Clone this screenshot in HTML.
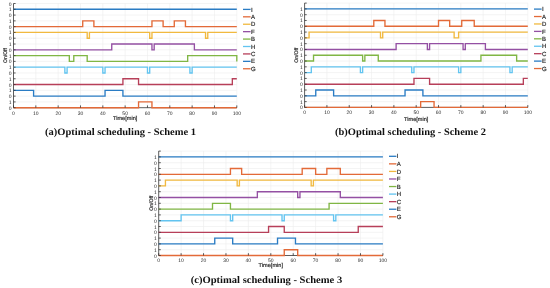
<!DOCTYPE html>
<html><head><meta charset="utf-8"><style>
html,body{margin:0;padding:0;background:#fff;}
svg{display:block;}
</style></head><body>
<svg width="550" height="288" viewBox="0 0 550 288" text-rendering="geometricPrecision" font-family="'Liberation Sans', Arial, sans-serif">
<rect width="550" height="288" fill="#fff"/>
<g><path d="M35.83 3.5V107.7M58.16 3.5V107.7M80.49 3.5V107.7M102.82 3.5V107.7M125.15 3.5V107.7M147.48 3.5V107.7M169.81 3.5V107.7M192.14 3.5V107.7M214.47 3.5V107.7M236.8 3.5V107.7M13.5 3.5H236.8M13.5 9.29H236.8M13.5 15.08H236.8M13.5 20.87H236.8M13.5 26.66H236.8M13.5 32.44H236.8M13.5 38.23H236.8M13.5 44.02H236.8M13.5 49.81H236.8M13.5 55.6H236.8M13.5 61.39H236.8M13.5 67.18H236.8M13.5 72.97H236.8M13.5 78.76H236.8M13.5 84.54H236.8M13.5 90.33H236.8M13.5 96.12H236.8M13.5 101.91H236.8" stroke="#ececec" stroke-width="0.6" fill="none"/><path d="M13.5 3.5V107.7H236.8" stroke="#333333" stroke-width="0.8" fill="none"/><path d="M13.5 9.29H236.8" stroke="#2a7cc4" stroke-width="1.35" fill="none"/><path d="M13.5 26.66H82.72V20.87H93.89V26.66H151.95V20.87H163.11V26.66H174.28V20.87H185.44V26.66H236.8" stroke="#e36a38" stroke-width="1.35" fill="none"/><path d="M13.5 32.44H87.19V38.23H89.42V32.44H149.71V38.23H151.95V32.44H205.54V38.23H207.77V32.44H236.8" stroke="#f1b93f" stroke-width="1.35" fill="none"/><path d="M13.5 49.81H111.75V44.02H151.95V49.81H154.18V44.02H194.37V49.81H236.8" stroke="#9450a3" stroke-width="1.35" fill="none"/><path d="M13.5 55.6H69.33V61.39H73.79V55.6H87.19V61.39H187.67V55.6H236.8V61.39H236.8" stroke="#80b644" stroke-width="1.35" fill="none"/><path d="M13.5 67.18H64.86V72.97H67.09V67.18H102.82V72.97H105.05V67.18H147.48V72.97H149.71V67.18H189.91V72.97H192.14V67.18H236.8" stroke="#62c4f0" stroke-width="1.35" fill="none"/><path d="M13.5 84.54H122.92V78.76H138.55V84.54H232.33V78.76H236.8" stroke="#b73f59" stroke-width="1.35" fill="none"/><path d="M13.5 90.33H33.6V96.12H105.05V90.33H122.92V96.12H236.8" stroke="#2a7cc4" stroke-width="1.35" fill="none"/><path d="M13.5 107.7H138.55V101.91H151.95V107.7H236.8" stroke="#e36a38" stroke-width="1.35" fill="none"/><path d="M13.5 3.5h2.1M13.5 9.29h2.1M13.5 15.08h2.1M13.5 20.87h2.1M13.5 26.66h2.1M13.5 32.44h2.1M13.5 38.23h2.1M13.5 44.02h2.1M13.5 49.81h2.1M13.5 55.6h2.1M13.5 61.39h2.1M13.5 67.18h2.1M13.5 72.97h2.1M13.5 78.76h2.1M13.5 84.54h2.1M13.5 90.33h2.1M13.5 96.12h2.1M13.5 101.91h2.1M13.5 107.7h2.1M13.5 107.7v-2.3M35.83 107.7v-2.3M58.16 107.7v-2.3M80.49 107.7v-2.3M102.82 107.7v-2.3M125.15 107.7v-2.3M147.48 107.7v-2.3M169.81 107.7v-2.3M192.14 107.7v-2.3M214.47 107.7v-2.3M236.8 107.7v-2.3" stroke="#333333" stroke-width="0.8" fill="none"/><g font-size="5" fill="#262626"><text x="11.6" y="5.5" text-anchor="end">0</text><text x="11.6" y="11.29" text-anchor="end">1</text><text x="11.6" y="17.08" text-anchor="end">0</text><text x="11.6" y="22.87" text-anchor="end">1</text><text x="11.6" y="28.66" text-anchor="end">0</text><text x="11.6" y="34.44" text-anchor="end">1</text><text x="11.6" y="40.23" text-anchor="end">0</text><text x="11.6" y="46.02" text-anchor="end">1</text><text x="11.6" y="51.81" text-anchor="end">0</text><text x="11.6" y="57.6" text-anchor="end">1</text><text x="11.6" y="63.39" text-anchor="end">0</text><text x="11.6" y="69.18" text-anchor="end">1</text><text x="11.6" y="74.97" text-anchor="end">0</text><text x="11.6" y="80.76" text-anchor="end">1</text><text x="11.6" y="86.54" text-anchor="end">0</text><text x="11.6" y="92.33" text-anchor="end">1</text><text x="11.6" y="98.12" text-anchor="end">0</text><text x="11.6" y="103.91" text-anchor="end">1</text><text x="11.6" y="109.7" text-anchor="end">0</text><text x="13.5" y="114.95" text-anchor="middle">0</text><text x="35.83" y="114.95" text-anchor="middle">10</text><text x="58.16" y="114.95" text-anchor="middle">20</text><text x="80.49" y="114.95" text-anchor="middle">30</text><text x="102.82" y="114.95" text-anchor="middle">40</text><text x="125.15" y="114.95" text-anchor="middle">50</text><text x="147.48" y="114.95" text-anchor="middle">60</text><text x="169.81" y="114.95" text-anchor="middle">70</text><text x="192.14" y="114.95" text-anchor="middle">80</text><text x="214.47" y="114.95" text-anchor="middle">90</text><text x="236.8" y="114.95" text-anchor="middle">100</text></g><text x="125.15" y="120" font-size="5.6" fill="#333333" stroke="#333" stroke-width="0.22" text-anchor="middle">Time[min]</text><text transform="translate(7.1 55.6) rotate(-90)" font-size="5.1" fill="#333333" stroke="#333" stroke-width="0.22" text-anchor="middle">On/Off</text><g font-size="6" fill="#333333" stroke="#333" stroke-width="0.22"><path d="M243 9.4h7.6" stroke="#2a7cc4" stroke-width="1.3"/><text x="250.9" y="11.55">I</text><path d="M243 16.82h7.6" stroke="#e36a38" stroke-width="1.3"/><text x="250.9" y="18.97">A</text><path d="M243 24.24h7.6" stroke="#f1b93f" stroke-width="1.3"/><text x="250.9" y="26.39">D</text><path d="M243 31.66h7.6" stroke="#9450a3" stroke-width="1.3"/><text x="250.9" y="33.81">F</text><path d="M243 39.08h7.6" stroke="#80b644" stroke-width="1.3"/><text x="250.9" y="41.23">B</text><path d="M243 46.5h7.6" stroke="#62c4f0" stroke-width="1.3"/><text x="250.9" y="48.65">H</text><path d="M243 53.92h7.6" stroke="#b73f59" stroke-width="1.3"/><text x="250.9" y="56.07">C</text><path d="M243 61.34h7.6" stroke="#2a7cc4" stroke-width="1.3"/><text x="250.9" y="63.49">E</text><path d="M243 68.76h7.6" stroke="#e36a38" stroke-width="1.3"/><text x="250.9" y="70.91">G</text></g><text x="45" y="134.8" font-family="'Liberation Serif', serif" font-weight="bold" font-size="10" fill="#111" textLength="151" lengthAdjust="spacingAndGlyphs">(a)Optimal scheduling - Scheme 1</text></g>
<g><path d="M326.92 3.1V107.4M349.24 3.1V107.4M371.56 3.1V107.4M393.88 3.1V107.4M416.2 3.1V107.4M438.52 3.1V107.4M460.84 3.1V107.4M483.16 3.1V107.4M505.48 3.1V107.4M527.8 3.1V107.4M304.6 3.1H527.8M304.6 8.89H527.8M304.6 14.69H527.8M304.6 20.48H527.8M304.6 26.28H527.8M304.6 32.07H527.8M304.6 37.87H527.8M304.6 43.66H527.8M304.6 49.46H527.8M304.6 55.25H527.8M304.6 61.04H527.8M304.6 66.84H527.8M304.6 72.63H527.8M304.6 78.43H527.8M304.6 84.22H527.8M304.6 90.02H527.8M304.6 95.81H527.8M304.6 101.61H527.8" stroke="#ececec" stroke-width="0.6" fill="none"/><path d="M304.6 3.1V107.4H527.8" stroke="#333333" stroke-width="0.8" fill="none"/><path d="M304.6 8.89H527.8" stroke="#2a7cc4" stroke-width="1.35" fill="none"/><path d="M304.6 26.28H373.79V20.48H384.95V26.28H438.52V20.48H449.68V26.28H461.73V20.48H474.23V26.28H527.8" stroke="#e36a38" stroke-width="1.35" fill="none"/><path d="M304.6 37.87H309.06V32.07H380.49V37.87H382.72V32.07H454.14V37.87H458.61V32.07H527.8" stroke="#f1b93f" stroke-width="1.35" fill="none"/><path d="M304.6 49.46H396.11V43.66H427.36V49.46H429.59V43.66H463.07V49.46H465.3V43.66H485.39V49.46H527.8" stroke="#9450a3" stroke-width="1.35" fill="none"/><path d="M304.6 61.04H313.53V55.25H362.63V61.04H364.86V55.25H378.26V61.04H480.93V55.25H516.64V61.04H527.8" stroke="#80b644" stroke-width="1.35" fill="none"/><path d="M304.6 72.63H311.3V66.84H360.4V72.63H362.63V66.84H411.74V72.63H413.97V66.84H458.61V72.63H460.84V66.84H509.94V72.63H512.18V66.84H527.8" stroke="#62c4f0" stroke-width="1.35" fill="none"/><path d="M304.6 84.22H413.97V78.43H429.59V84.22H523.34V78.43H527.8" stroke="#b73f59" stroke-width="1.35" fill="none"/><path d="M304.6 95.81H315.76V90.02H333.62V95.81H405.04V90.02H422.9V95.81H527.8" stroke="#2a7cc4" stroke-width="1.35" fill="none"/><path d="M304.6 107.4H420.66V101.61H434.06V107.4H527.8" stroke="#e36a38" stroke-width="1.35" fill="none"/><path d="M304.6 3.1h2.1M304.6 8.89h2.1M304.6 14.69h2.1M304.6 20.48h2.1M304.6 26.28h2.1M304.6 32.07h2.1M304.6 37.87h2.1M304.6 43.66h2.1M304.6 49.46h2.1M304.6 55.25h2.1M304.6 61.04h2.1M304.6 66.84h2.1M304.6 72.63h2.1M304.6 78.43h2.1M304.6 84.22h2.1M304.6 90.02h2.1M304.6 95.81h2.1M304.6 101.61h2.1M304.6 107.4h2.1M304.6 107.4v-2.3M326.92 107.4v-2.3M349.24 107.4v-2.3M371.56 107.4v-2.3M393.88 107.4v-2.3M416.2 107.4v-2.3M438.52 107.4v-2.3M460.84 107.4v-2.3M483.16 107.4v-2.3M505.48 107.4v-2.3M527.8 107.4v-2.3" stroke="#333333" stroke-width="0.8" fill="none"/><g font-size="5" fill="#262626"><text x="302.7" y="10.89" text-anchor="end">1</text><text x="302.7" y="16.69" text-anchor="end">0</text><text x="302.7" y="22.48" text-anchor="end">1</text><text x="302.7" y="28.28" text-anchor="end">0</text><text x="302.7" y="34.07" text-anchor="end">1</text><text x="302.7" y="39.87" text-anchor="end">0</text><text x="302.7" y="45.66" text-anchor="end">1</text><text x="302.7" y="51.46" text-anchor="end">0</text><text x="302.7" y="57.25" text-anchor="end">1</text><text x="302.7" y="63.04" text-anchor="end">0</text><text x="302.7" y="68.84" text-anchor="end">1</text><text x="302.7" y="74.63" text-anchor="end">0</text><text x="302.7" y="80.43" text-anchor="end">1</text><text x="302.7" y="86.22" text-anchor="end">0</text><text x="302.7" y="92.02" text-anchor="end">1</text><text x="302.7" y="97.81" text-anchor="end">0</text><text x="302.7" y="103.61" text-anchor="end">1</text><text x="302.7" y="109.4" text-anchor="end">0</text><text x="304.6" y="114.2" text-anchor="middle">0</text><text x="326.92" y="114.2" text-anchor="middle">10</text><text x="349.24" y="114.2" text-anchor="middle">20</text><text x="371.56" y="114.2" text-anchor="middle">30</text><text x="393.88" y="114.2" text-anchor="middle">40</text><text x="416.2" y="114.2" text-anchor="middle">50</text><text x="438.52" y="114.2" text-anchor="middle">60</text><text x="460.84" y="114.2" text-anchor="middle">70</text><text x="483.16" y="114.2" text-anchor="middle">80</text><text x="505.48" y="114.2" text-anchor="middle">90</text><text x="527.8" y="114.2" text-anchor="middle">100</text></g><text x="416.2" y="121" font-size="5.6" fill="#333333" stroke="#333" stroke-width="0.22" text-anchor="middle">Time[min]</text><text transform="translate(297.9 55.25) rotate(-90)" font-size="5.1" fill="#333333" stroke="#333" stroke-width="0.22" text-anchor="middle">On/Off</text><g font-size="6" fill="#333333" stroke="#333" stroke-width="0.22"><path d="M534 9.1h7.6" stroke="#2a7cc4" stroke-width="1.3"/><text x="541.9" y="11.25">I</text><path d="M534 16.53h7.6" stroke="#e36a38" stroke-width="1.3"/><text x="541.9" y="18.68">A</text><path d="M534 23.96h7.6" stroke="#f1b93f" stroke-width="1.3"/><text x="541.9" y="26.11">D</text><path d="M534 31.39h7.6" stroke="#9450a3" stroke-width="1.3"/><text x="541.9" y="33.54">F</text><path d="M534 38.82h7.6" stroke="#80b644" stroke-width="1.3"/><text x="541.9" y="40.97">B</text><path d="M534 46.25h7.6" stroke="#62c4f0" stroke-width="1.3"/><text x="541.9" y="48.4">H</text><path d="M534 53.68h7.6" stroke="#b73f59" stroke-width="1.3"/><text x="541.9" y="55.83">C</text><path d="M534 61.11h7.6" stroke="#2a7cc4" stroke-width="1.3"/><text x="541.9" y="63.26">E</text><path d="M534 68.54h7.6" stroke="#e36a38" stroke-width="1.3"/><text x="541.9" y="70.69">G</text></g><text x="335" y="134.7" font-family="'Liberation Serif', serif" font-weight="bold" font-size="10" fill="#111" textLength="151" lengthAdjust="spacingAndGlyphs">(b)Optimal scheduling - Scheme 2</text></g>
<g><path d="M181.12 151.1V255.5M203.54 151.1V255.5M225.96 151.1V255.5M248.38 151.1V255.5M270.8 151.1V255.5M293.22 151.1V255.5M315.64 151.1V255.5M338.06 151.1V255.5M360.48 151.1V255.5M382.9 151.1V255.5M158.7 151.1H382.9M158.7 156.9H382.9M158.7 162.7H382.9M158.7 168.5H382.9M158.7 174.3H382.9M158.7 180.1H382.9M158.7 185.9H382.9M158.7 191.7H382.9M158.7 197.5H382.9M158.7 203.3H382.9M158.7 209.1H382.9M158.7 214.9H382.9M158.7 220.7H382.9M158.7 226.5H382.9M158.7 232.3H382.9M158.7 238.1H382.9M158.7 243.9H382.9M158.7 249.7H382.9" stroke="#ececec" stroke-width="0.6" fill="none"/><path d="M158.7 151.1V255.5H382.9" stroke="#333333" stroke-width="0.8" fill="none"/><path d="M158.7 156.9H382.9" stroke="#2a7cc4" stroke-width="1.35" fill="none"/><path d="M158.7 174.3H230.44V168.5H241.65V174.3H302.19V168.5H315.64V174.3H326.85V168.5H340.3V174.3H382.9" stroke="#e36a38" stroke-width="1.35" fill="none"/><path d="M158.7 185.9H165.43V180.1H237.17V185.9H239.41V180.1H311.16V185.9H313.4V180.1H382.9" stroke="#f1b93f" stroke-width="1.35" fill="none"/><path d="M158.7 197.5H257.35V191.7H297.7V197.5H299.95V191.7H340.3V197.5H382.9" stroke="#9450a3" stroke-width="1.35" fill="none"/><path d="M158.7 209.1H212.51V203.3H230.44V209.1H329.09V203.3H382.9" stroke="#80b644" stroke-width="1.35" fill="none"/><path d="M158.7 220.7H181.12V214.9H230.44V220.7H232.69V214.9H282.01V220.7H284.25V214.9H333.58V220.7H335.82V214.9H382.9" stroke="#62c4f0" stroke-width="1.35" fill="none"/><path d="M158.7 232.3H268.56V226.5H284.25V232.3H358.24V226.5H382.9" stroke="#b73f59" stroke-width="1.35" fill="none"/><path d="M158.7 243.9H214.75V238.1H232.69V243.9H277.53V238.1H295.46V243.9H382.9" stroke="#2a7cc4" stroke-width="1.35" fill="none"/><path d="M158.7 255.5H284.25V249.7H297.7V255.5H382.9" stroke="#e36a38" stroke-width="1.35" fill="none"/><path d="M158.7 151.1h2.1M158.7 156.9h2.1M158.7 162.7h2.1M158.7 168.5h2.1M158.7 174.3h2.1M158.7 180.1h2.1M158.7 185.9h2.1M158.7 191.7h2.1M158.7 197.5h2.1M158.7 203.3h2.1M158.7 209.1h2.1M158.7 214.9h2.1M158.7 220.7h2.1M158.7 226.5h2.1M158.7 232.3h2.1M158.7 238.1h2.1M158.7 243.9h2.1M158.7 249.7h2.1M158.7 255.5h2.1M158.7 255.5v-2.3M181.12 255.5v-2.3M203.54 255.5v-2.3M225.96 255.5v-2.3M248.38 255.5v-2.3M270.8 255.5v-2.3M293.22 255.5v-2.3M315.64 255.5v-2.3M338.06 255.5v-2.3M360.48 255.5v-2.3M382.9 255.5v-2.3" stroke="#333333" stroke-width="0.8" fill="none"/><g font-size="5" fill="#262626"><text x="156.8" y="158.9" text-anchor="end">1</text><text x="156.8" y="164.7" text-anchor="end">0</text><text x="156.8" y="170.5" text-anchor="end">1</text><text x="156.8" y="176.3" text-anchor="end">0</text><text x="156.8" y="182.1" text-anchor="end">1</text><text x="156.8" y="187.9" text-anchor="end">0</text><text x="156.8" y="193.7" text-anchor="end">1</text><text x="156.8" y="199.5" text-anchor="end">0</text><text x="156.8" y="205.3" text-anchor="end">1</text><text x="156.8" y="211.1" text-anchor="end">0</text><text x="156.8" y="216.9" text-anchor="end">1</text><text x="156.8" y="222.7" text-anchor="end">0</text><text x="156.8" y="228.5" text-anchor="end">1</text><text x="156.8" y="234.3" text-anchor="end">0</text><text x="156.8" y="240.1" text-anchor="end">1</text><text x="156.8" y="245.9" text-anchor="end">0</text><text x="156.8" y="251.7" text-anchor="end">1</text><text x="156.8" y="257.5" text-anchor="end">0</text><text x="158.7" y="262" text-anchor="middle">0</text><text x="181.12" y="262" text-anchor="middle">10</text><text x="203.54" y="262" text-anchor="middle">20</text><text x="225.96" y="262" text-anchor="middle">30</text><text x="248.38" y="262" text-anchor="middle">40</text><text x="270.8" y="262" text-anchor="middle">50</text><text x="293.22" y="262" text-anchor="middle">60</text><text x="315.64" y="262" text-anchor="middle">70</text><text x="338.06" y="262" text-anchor="middle">80</text><text x="360.48" y="262" text-anchor="middle">90</text><text x="382.9" y="262" text-anchor="middle">100</text></g><text x="270.8" y="267.3" font-size="5.6" fill="#333333" stroke="#333" stroke-width="0.22" text-anchor="middle">Time[min]</text><text transform="translate(153.2 203.3) rotate(-90)" font-size="5.1" fill="#333333" stroke="#333" stroke-width="0.22" text-anchor="middle">On/Off</text><g font-size="6" fill="#333333" stroke="#333" stroke-width="0.22"><path d="M389 156.3h7.4" stroke="#2a7cc4" stroke-width="1.3"/><text x="396.7" y="158.45">I</text><path d="M389 163.86h7.4" stroke="#e36a38" stroke-width="1.3"/><text x="396.7" y="166.01">A</text><path d="M389 171.42h7.4" stroke="#f1b93f" stroke-width="1.3"/><text x="396.7" y="173.57">D</text><path d="M389 178.98h7.4" stroke="#9450a3" stroke-width="1.3"/><text x="396.7" y="181.13">F</text><path d="M389 186.54h7.4" stroke="#80b644" stroke-width="1.3"/><text x="396.7" y="188.69">B</text><path d="M389 194.1h7.4" stroke="#62c4f0" stroke-width="1.3"/><text x="396.7" y="196.25">H</text><path d="M389 201.66h7.4" stroke="#b73f59" stroke-width="1.3"/><text x="396.7" y="203.81">C</text><path d="M389 209.22h7.4" stroke="#2a7cc4" stroke-width="1.3"/><text x="396.7" y="211.37">E</text><path d="M389 216.78h7.4" stroke="#e36a38" stroke-width="1.3"/><text x="396.7" y="218.93">G</text></g><text x="190.7" y="282.6" font-family="'Liberation Serif', serif" font-weight="bold" font-size="10" fill="#111" textLength="151.5" lengthAdjust="spacingAndGlyphs">(c)Optimal scheduling - Scheme 3</text></g>
</svg>
</body></html>
